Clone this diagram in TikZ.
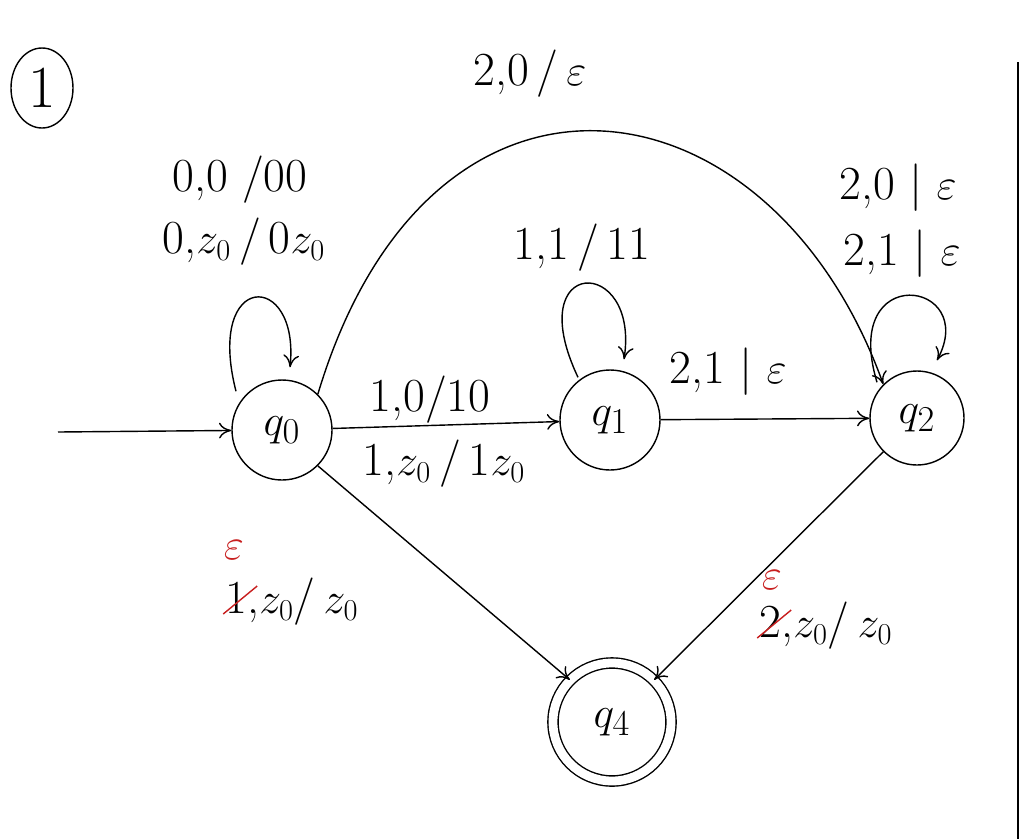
\documentclass[tikz,border=0pt]{standalone}
\usepackage{tikz}
\usetikzlibrary{positioning,arrows.meta,calc,shapes.geometric}
\definecolor{penred}{RGB}{200,30,30}
\tikzset{
  state/.style={draw, circle, minimum size=100*0.02cm, inner sep=0pt, font=\fontsize{28}{30}\selectfont},
  accept/.style={state, double, double distance=5pt, minimum size=118*0.02cm},
  trans/.style={-{To[length=7pt,width=9pt]}, thick},
  lbl/.style={font=\fontsize{27}{30}\selectfont, inner sep=1pt},
  redmark/.style={text=penred, font=\fontsize{24}{26}\selectfont, inner sep=1pt}
}
\begin{document}
\begin{tikzpicture}[x=0.02cm, y=-0.02cm, thick]
  \useasboundingbox (0,0) rectangle (1024,839);
  \fill[white] (0,0) rectangle (1024,839);

  % states
  \node[state] (q0) at (282,430) {$q_0$};
  \node[state] (q1) at (610,420) {$q_1$};
  \node[state, minimum size=94*0.02cm] (q2) at (917,418) {$q_2$};
  \node[accept] (q4) at (612,722) {$q_4$};
  \coordinate (start) at (58,432);

  % sheet marks
  \node[draw, ellipse, minimum width=62*0.02cm, minimum height=80*0.02cm, inner sep=0pt, font=\fontsize{34}{36}\selectfont] (num) at (42,88) {1};
  \coordinate (ruletop) at (1018,62);
  \coordinate (rulebot) at (1018,839);
  \draw (ruletop) -- (rulebot);

  % transitions
  \draw[trans] (start) -- (q0);
  \draw[trans] (q0) -- (q1);
  \draw[trans] (q1) -- (q2);
  \draw[trans] (q0.south east) -- (q4.north west);
  \draw[trans] (q2.south west) -- (q4.north east);
  \draw[trans] (q0.north east) .. controls (430,20) and (770,70) .. (q2.north west);
  \draw[trans] ($(q0.north)+(-46,12)$) .. controls (205,270) and (300,270) .. ($(q0.north)+(8,-12)$);
  \draw[trans] ($(q1.north)+(-32,8)$) .. controls (520,255) and (640,255) .. ($(q1.north)+(14,-10)$);
  \draw[trans] ($(q2.north)+(-40,12)$) .. controls (840,260) and (980,280) .. ($(q2.north)+(20,-10)$);

  % labels
  \node[lbl] (l02) at (530,74) {2,0\,/\,$\varepsilon$};
  \node[lbl] (l00a) at (240,180) {0,0 /00};
  \node[lbl] (l00b) at (244,242) {0,$z_0$\,/\,0$z_0$};
  \node[lbl] (l11) at (582,248) {1,1\,/\,11};
  \node[lbl] (l22a) at (898,188) {2,0 | $\varepsilon$};
  \node[lbl] (l22b) at (902,254) {2,1 | $\varepsilon$};
  \node[lbl] (l12) at (728,372) {2,1 | $\varepsilon$};
  \node[lbl] (l01a) at (430,400) {1,0/10};
  \node[lbl] (l01b) at (444,464) {1,$z_0$\,/\,1$z_0$};
  \node[lbl] (l04) at (292,602) {1,$z_0$/\,$z_0$};
  \node[redmark] (e04) at (234,550) {$\varepsilon$};
  \draw[penred] ($(l04.west)+(0,12)$) -- ($(l04.west)+(34,-16)$);
  \node[lbl] (l24) at (826,626) {2,$z_0$/\,$z_0$};
  \node[redmark] (e24) at (772,580) {$\varepsilon$};
  \draw[penred] ($(l24.west)+(0,12)$) -- ($(l24.west)+(34,-16)$);
\end{tikzpicture}
\end{document}
